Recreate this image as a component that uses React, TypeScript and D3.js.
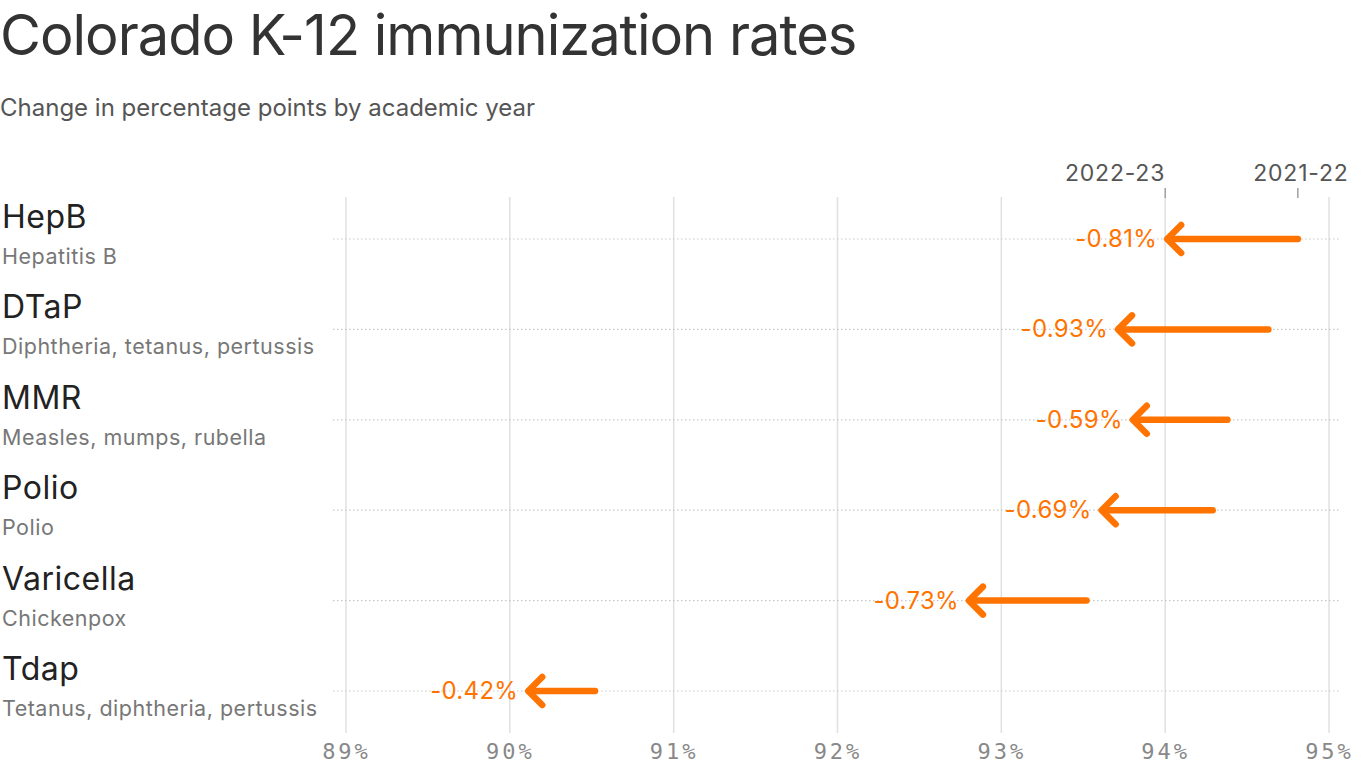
import { useEffect, useRef } from "react";
import * as d3 from "d3";

const vaccines = ["HepB", "DTaP", "MMR", "Polio", "Varicella", "Tdap"];
const descriptions = [
  "Hepatitis B",
  "Diphtheria, tetanus, pertussis",
  "Measles, mumps, rubella",
  "Polio",
  "Chickenpox",
  "Tetanus, diphtheria, pertussis"
];
const rate2122 = [94.81, 94.63, 94.38, 94.29, 93.52, 90.52];
const rate2223 = [94.0, 93.7, 93.79, 93.6, 92.79, 90.1];
const changeLabels = ["-0.81%", "-0.93%", "-0.59%", "-0.69%", "-0.73%", "-0.42%"];
const xTicks = [89, 90, 91, 92, 93, 94, 95];
const yearLabels = ["2022-23", "2021-22"];

const W = 1366, H = 768;
const ORANGE = "#ff7300";

export default function App() {
  const ref = useRef<SVGSVGElement | null>(null);

  useEffect(() => {
    const svg = d3.select(ref.current);
    svg.selectAll("*").remove();

    const x = d3.scaleLinear().domain([89, 95]).range([346, 1329]);
    const y = d3.scalePoint<string>().domain(vaccines).range([239, 691]);

    const font = "Inter, 'Noto Sans', sans-serif";

    svg.append("rect").attr("width", W).attr("height", H).attr("fill", "#fff");

    svg.append("text")
      .attr("x", 0).attr("y", 55)
      .attr("font-family", font).attr("font-size", 56)
      .attr("letter-spacing", -1)
      .attr("fill", "#333")
      .text("Colorado K-12 immunization rates");

    svg.append("text")
      .attr("x", 0).attr("y", 116)
      .attr("font-family", font).attr("font-size", 24)
      .attr("fill", "#555")
      .text("Change in percentage points by academic year");

    // vertical grid
    const grid = svg.append("g");
    grid.selectAll("line")
      .data(xTicks)
      .enter()
      .append("line")
      .attr("x1", d => x(d)).attr("x2", d => x(d))
      .attr("y1", 197).attr("y2", 733)
      .attr("stroke", "#e0e0e0").attr("stroke-width", 1.5);

    // bottom axis labels
    svg.append("g")
      .attr("transform", "translate(0,759)")
      .call(d3.axisBottom(x).tickValues(xTicks).tickSize(0).tickFormat(d => `${d}%`) as any)
      .call((g: any) => g.select(".domain").remove())
      .call((g: any) => g.selectAll("text")
        .attr("dy", 0)
        .attr("y", 0)
        .attr("font-family", "'DejaVu Sans Mono', monospace")
        .attr("font-size", 22)
        .attr("letter-spacing", 3)
        .attr("fill", "#888"));

    // year labels on top
    const topVals = [rate2223[0], rate2122[0]];
    const top = svg.append("g");
    topVals.forEach((v, i) => {
      top.append("text")
        .attr("x", i === 0 ? x(v) : x(v) + 3).attr("y", 181)
        .attr("text-anchor", i === 0 ? "end" : "middle")
        .attr("font-family", font).attr("font-size", 23)
        .attr("letter-spacing", 0.8)
        .attr("fill", "#555")
        .text(yearLabels[i]);
      top.append("line")
        .attr("x1", x(v)).attr("x2", x(v))
        .attr("y1", 188).attr("y2", 198)
        .attr("stroke", "#888").attr("stroke-width", 1.2);
    });

    // rows
    const rows = svg.append("g")
      .selectAll("g.row")
      .data(vaccines)
      .enter()
      .append("g")
      .attr("class", "row")
      .attr("transform", d => `translate(0,${y(d)})`);

    rows.append("line")
      .attr("x1", 333).attr("x2", 1340)
      .attr("stroke", "#c8c8c8").attr("stroke-width", 1.2)
      .attr("stroke-dasharray", "1.5 2.5");

    rows.append("text")
      .attr("x", 2).attr("y", -11)
      .attr("font-family", font).attr("font-size", 32)
      .attr("letter-spacing", 0.5)
      .attr("fill", "#222")
      .text(d => d);

    rows.append("text")
      .attr("x", 2).attr("y", 25)
      .attr("font-family", font).attr("font-size", 21.5)
      .attr("letter-spacing", 0.5)
      .attr("fill", "#777")
      .text((_, i) => descriptions[i]);

    rows.each(function (_, i) {
      const g = d3.select(this);
      const x0 = x(rate2122[i]);
      const x1 = x(rate2223[i]);
      g.append("line")
        .attr("x1", x0).attr("x2", x1 + 3)
        .attr("stroke", ORANGE).attr("stroke-width", 6.5)
        .attr("stroke-linecap", "round");
      g.append("path")
        .attr("d", `M ${x1 + 16} -14 L ${x1 + 2} 0 L ${x1 + 16} 14`)
        .attr("fill", "none")
        .attr("stroke", ORANGE).attr("stroke-width", 6.5)
        .attr("stroke-linecap", "round").attr("stroke-linejoin", "round");
      g.append("text")
        .attr("x", x1 - 8).attr("y", 8)
        .attr("text-anchor", "end")
        .attr("font-family", font).attr("font-size", 24)
        .attr("letter-spacing", 0.3)
        .attr("fill", ORANGE)
        .text(changeLabels[i]);
    });
  }, []);

  return (
    <svg
      ref={ref}
      width={W}
      height={H}
      style={{ position: "absolute", left: 0, top: 0, display: "block" }}
    />
  );
}
